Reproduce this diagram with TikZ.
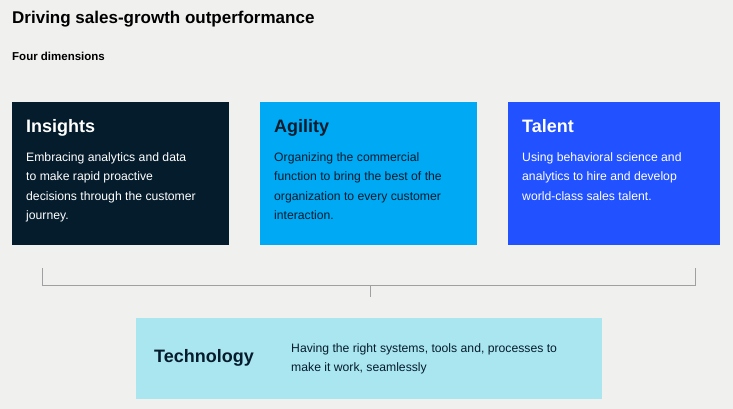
\documentclass[tikz,border=0pt]{standalone}
\usepackage{fontspec}
\setmainfont{Liberation Sans}
\definecolor{bg}{HTML}{F0F0EF}
\definecolor{navy}{HTML}{051C2C}
\definecolor{cyanb}{HTML}{00A9F4}
\definecolor{blueb}{HTML}{2251FF}
\definecolor{techb}{HTML}{AAE6F0}
\definecolor{brk}{HTML}{A0A0A0}
\tikzset{
 card/.style={anchor=north west,inner sep=0pt,minimum height=143pt},
 ttl/.style={anchor=north west,inner sep=0pt,font=\fontsize{18}{20}\selectfont\bfseries},
 body/.style={anchor=north west,inner sep=0pt,align=left,font=\fontsize{12.2}{19.5}\selectfont},
 brack/.style={draw=brk,line width=1pt}
}
\begin{document}
\begin{tikzpicture}[x=1pt,y=-1pt]
\fill[bg] (0,0) rectangle (733,409);
\useasboundingbox (0,0) rectangle (733,409);
\node[anchor=north west,inner sep=0pt,font=\fontsize{17}{20}\selectfont\bfseries] (title) at (12,11) {Driving sales-growth outperformance};
\node[anchor=north west,inner sep=0pt,font=\fontsize{11.5}{14}\selectfont\bfseries] (sub) at (12,52) {Four dimensions};
\node[card,fill=navy,minimum width=217pt] (ins) at (12,102) {};
\node[card,fill=cyanb,minimum width=217pt] (agi) at (260,102) {};
\node[card,fill=blueb,minimum width=212pt] (tal) at (508,102) {};
\node[ttl,text=white] (insT) at (26,119) {Insights};
\node[ttl,text=navy] (agiT) at (274,119) {Agility};
\node[ttl,text=white] (talT) at (522,119) {Talent};
\node[body,text=white] (insB) at (26,152) {Embracing analytics and data\\to make rapid proactive\\decisions through the customer\\journey.};
\node[body,text=navy] (agiB) at (274,152) {Organizing the commercial\\function to bring the best of the\\organization to every customer\\interaction.};
\node[body,text=white] (talB) at (522,152) {Using behavioral science and\\analytics to hire and develop\\world-class sales talent.};
\coordinate (bl) at (42,268);
\coordinate (br) at (695,268);
\coordinate (bm) at (370,285);
\draw[brack] (bl) -- (42,285) -- (695,285) -- (br);
\draw[brack] (bm) -- (370,297);
\node[anchor=north west,inner sep=0pt,fill=techb,minimum width=466pt,minimum height=81pt] (tech) at (136,318) {};
\node[anchor=west,inner sep=0pt,text=navy,font=\fontsize{18}{20}\selectfont\bfseries] (techT) at (154,358) {Technology};
\node[body,text=navy,anchor=west] (techB) at (291,359) {Having the right systems, tools and, processes to\\make it work, seamlessly};
\end{tikzpicture}
\end{document}
